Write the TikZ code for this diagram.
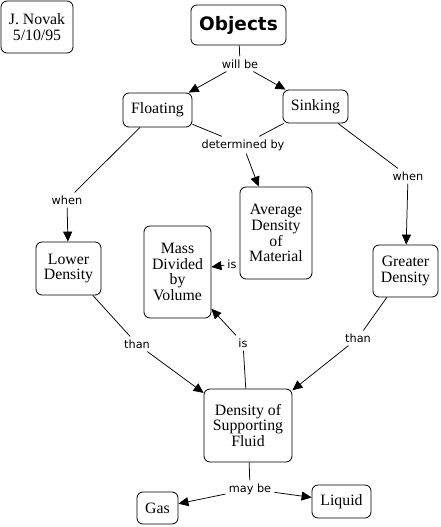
\documentclass[tikz,border=0pt]{standalone}
\usepackage{fontspec}
\setmainfont{Liberation Serif}
\newfontfamily\labfont{DejaVu Sans}
\usetikzlibrary{arrows.meta}
\tikzset{
  box/.style={draw, line width=0.8pt, rounded corners=6pt, align=center, inner sep=0pt,
    font=\fontsize{15.8}{15.8}\selectfont},
  lab/.style={inner sep=3pt, font=\labfont\fontsize{11.3}{13}\selectfont},
  conn/.style={line width=0.75pt},
  arr/.style={line width=0.75pt, -{Triangle[length=10pt,width=9pt]}},
}
\begin{document}
\begin{tikzpicture}[x=1pt,y=-1pt]
\useasboundingbox (0,0) rectangle (441,527);
% concepts
\node[box, minimum width=72pt, minimum height=52pt] (novak) at (37,27) {J. Novak\\5/10/95};
\node[box, minimum width=95pt, minimum height=40pt, font=\labfont\bfseries\fontsize{18.5}{20}\selectfont] (objects) at (238.5,25) {Objects};
\node[box, minimum width=69pt, minimum height=34pt] (floating) at (157.5,110) {Floating};
\node[box, minimum width=65pt, minimum height=33pt] (sinking) at (315.5,106.5) {Sinking};
\node[box, minimum width=72pt, minimum height=92pt] (average) at (276,233) {Average\\Density\\of\\Material};
\node[box, minimum width=67pt, minimum height=92pt] (mass) at (177.5,272) {Mass\\Divided\\by\\Volume};
\node[box, minimum width=65pt, minimum height=53pt] (lower) at (68.5,268.5) {Lower\\Density};
\node[box, minimum width=65pt, minimum height=52pt] (greater) at (405.5,271) {Greater\\Density};
\node[box, minimum width=88pt, minimum height=73pt] (fluid) at (248,425.5) {Density of\\Supporting\\Fluid};
\node[box, minimum width=41pt, minimum height=32pt] (gas) at (157.5,508) {Gas};
\node[box, minimum width=59pt, minimum height=33pt] (liquid) at (341.5,501.5) {Liquid};
% linking phrases
\node[lab] (willbe) at (240,64) {will be};
\node[lab] (detby) at (243,145) {determined by};
\node[lab] (whenl) at (67,200) {when};
\node[lab] (whenr) at (408,176) {when};
\node[lab] (isa) at (232,264) {is};
\node[lab] (thanl) at (137,344) {than};
\node[lab] (thanr) at (358,338) {than};
\node[lab] (isb) at (243,343) {is};
\node[lab] (maybe) at (250,489) {may be};
% connections
\draw[conn] (objects) -- (willbe);
\draw[arr] (willbe) -- (floating);
\draw[arr] (willbe) -- (sinking);
\draw[conn] (floating) -- (detby);
\draw[conn] (sinking) -- (detby);
\draw[arr] (detby) -- (average);
\draw[conn] (floating) -- (whenl);
\draw[arr] (whenl) -- (lower);
\draw[conn] (sinking) -- (whenr);
\draw[arr] (whenr) -- (greater);
\draw[arr] (isa) -- (mass);
\draw[conn] (lower) -- (thanl);
\draw[arr] (thanl) -- (fluid);
\draw[conn] (greater) -- (thanr);
\draw[arr] (thanr) -- (fluid);
\draw[conn] (fluid) -- (isb);
\draw[arr] (isb) -- (mass);
\draw[conn] (fluid) -- (maybe);
\draw[arr] (maybe) -- (gas);
\draw[arr] (maybe) -- (liquid);
\end{tikzpicture}
\end{document}
